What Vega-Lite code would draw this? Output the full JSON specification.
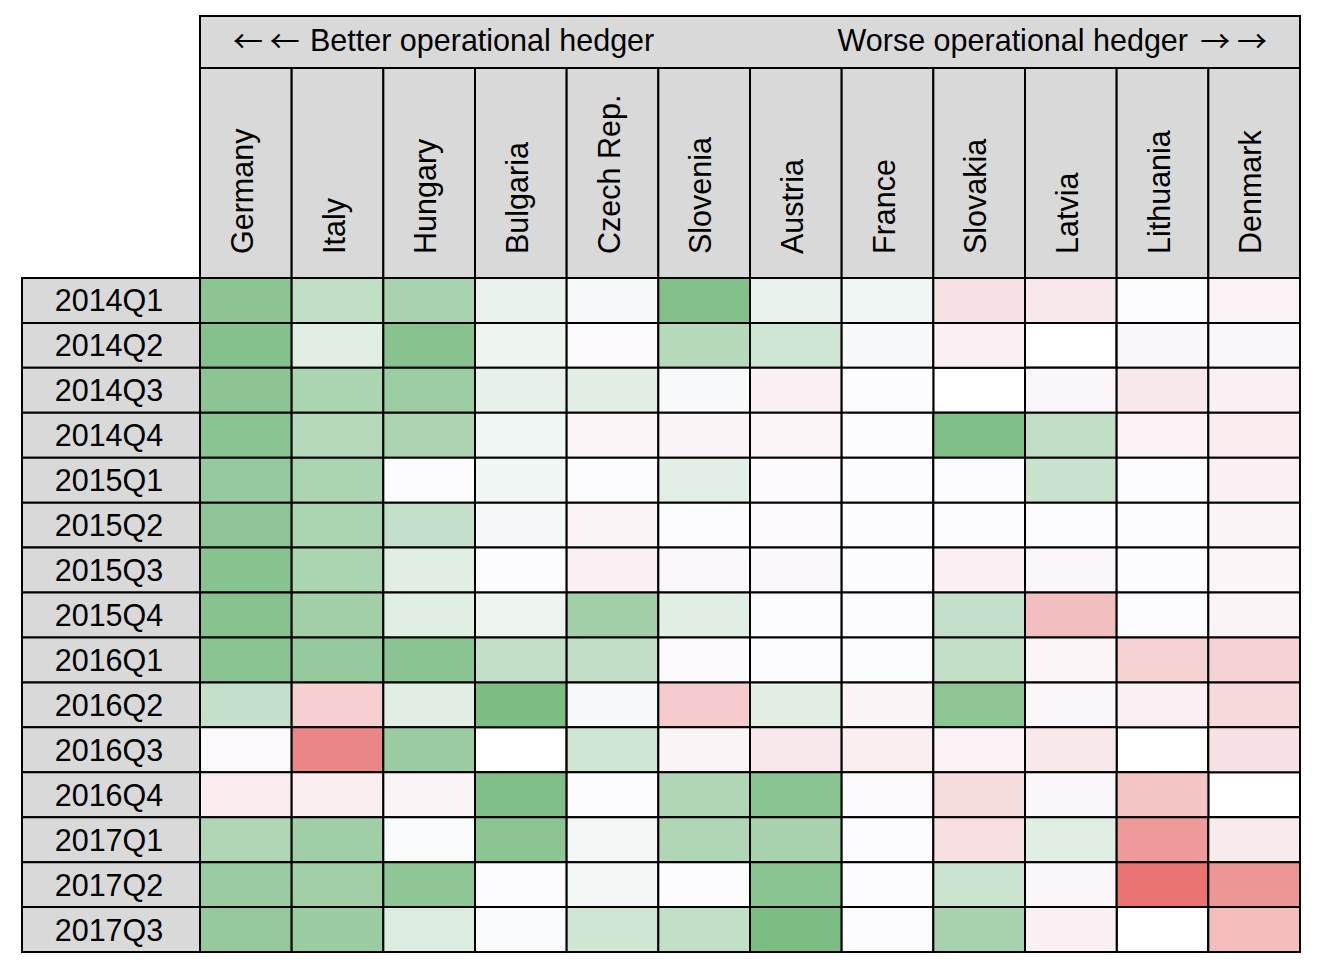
{
  "$schema": "https://vega.github.io/schema/vega-lite/v6.json",
  "padding": {"left": 21, "top": 15, "right": 0, "bottom": 0},
  "background": "white",
  "columns": 2,
  "spacing": 0,
  "align": "each",
  "bounds": "flush",
  "config": {
    "view": {"stroke": null},
    "text": {"font": "Liberation Sans", "fontSize": 30.5, "color": "black"}
  },
  "datasets": {
    "countries": [
      {"country": "Germany"}, {"country": "Italy"}, {"country": "Hungary"}, {"country": "Bulgaria"},
      {"country": "Czech Rep."}, {"country": "Slovenia"}, {"country": "Austria"}, {"country": "France"},
      {"country": "Slovakia"}, {"country": "Latvia"}, {"country": "Lithuania"}, {"country": "Denmark"}
    ],
    "quarters": [
      {"quarter": "2014Q1"}, {"quarter": "2014Q2"}, {"quarter": "2014Q3"}, {"quarter": "2014Q4"},
      {"quarter": "2015Q1"}, {"quarter": "2015Q2"}, {"quarter": "2015Q3"}, {"quarter": "2015Q4"},
      {"quarter": "2016Q1"}, {"quarter": "2016Q2"}, {"quarter": "2016Q3"}, {"quarter": "2016Q4"},
      {"quarter": "2017Q1"}, {"quarter": "2017Q2"}, {"quarter": "2017Q3"}
    ],
    "header": [
      {"label": "← ←", "anchor": "Germany", "part": "leftArrows"},
      {"label": "Better operational hedger", "anchor": "Germany", "part": "leftText"},
      {"label": "Worse operational hedger", "anchor": "Denmark", "part": "rightText"},
      {"label": "→ →", "anchor": "Denmark", "part": "rightArrows"}
    ],
    "cells": [
      {"quarter": "2014Q1", "country": "Germany", "value": -0.87},
      {"quarter": "2014Q1", "country": "Italy", "value": -0.47},
      {"quarter": "2014Q1", "country": "Hungary", "value": -0.64},
      {"quarter": "2014Q1", "country": "Bulgaria", "value": -0.15},
      {"quarter": "2014Q1", "country": "Czech Rep.", "value": -0.05},
      {"quarter": "2014Q1", "country": "Slovenia", "value": -0.94},
      {"quarter": "2014Q1", "country": "Austria", "value": -0.15},
      {"quarter": "2014Q1", "country": "France", "value": -0.09},
      {"quarter": "2014Q1", "country": "Slovakia", "value": 0.19},
      {"quarter": "2014Q1", "country": "Latvia", "value": 0.14},
      {"quarter": "2014Q1", "country": "Lithuania", "value": 0.0},
      {"quarter": "2014Q1", "country": "Denmark", "value": 0.07},

      {"quarter": "2014Q2", "country": "Germany", "value": -0.92},
      {"quarter": "2014Q2", "country": "Italy", "value": -0.22},
      {"quarter": "2014Q2", "country": "Hungary", "value": -0.90},
      {"quarter": "2014Q2", "country": "Bulgaria", "value": -0.11},
      {"quarter": "2014Q2", "country": "Czech Rep.", "value": 0.02},
      {"quarter": "2014Q2", "country": "Slovenia", "value": -0.54},
      {"quarter": "2014Q2", "country": "Austria", "value": -0.34},
      {"quarter": "2014Q2", "country": "France", "value": -0.05},
      {"quarter": "2014Q2", "country": "Slovakia", "value": 0.09},
      {"quarter": "2014Q2", "country": "Latvia", "value": null},
      {"quarter": "2014Q2", "country": "Lithuania", "value": 0.04},
      {"quarter": "2014Q2", "country": "Denmark", "value": 0.04},

      {"quarter": "2014Q3", "country": "Germany", "value": -0.87},
      {"quarter": "2014Q3", "country": "Italy", "value": -0.63},
      {"quarter": "2014Q3", "country": "Hungary", "value": -0.75},
      {"quarter": "2014Q3", "country": "Bulgaria", "value": -0.17},
      {"quarter": "2014Q3", "country": "Czech Rep.", "value": -0.22},
      {"quarter": "2014Q3", "country": "Slovenia", "value": -0.04},
      {"quarter": "2014Q3", "country": "Austria", "value": 0.09},
      {"quarter": "2014Q3", "country": "France", "value": 0.0},
      {"quarter": "2014Q3", "country": "Slovakia", "value": null},
      {"quarter": "2014Q3", "country": "Latvia", "value": 0.04},
      {"quarter": "2014Q3", "country": "Lithuania", "value": 0.14},
      {"quarter": "2014Q3", "country": "Denmark", "value": 0.09},

      {"quarter": "2014Q4", "country": "Germany", "value": -0.88},
      {"quarter": "2014Q4", "country": "Italy", "value": -0.54},
      {"quarter": "2014Q4", "country": "Hungary", "value": -0.62},
      {"quarter": "2014Q4", "country": "Bulgaria", "value": -0.10},
      {"quarter": "2014Q4", "country": "Czech Rep.", "value": 0.05},
      {"quarter": "2014Q4", "country": "Slovenia", "value": 0.06},
      {"quarter": "2014Q4", "country": "Austria", "value": 0.05},
      {"quarter": "2014Q4", "country": "France", "value": 0.0},
      {"quarter": "2014Q4", "country": "Slovakia", "value": -0.97},
      {"quarter": "2014Q4", "country": "Latvia", "value": -0.47},
      {"quarter": "2014Q4", "country": "Lithuania", "value": 0.07},
      {"quarter": "2014Q4", "country": "Denmark", "value": 0.12},

      {"quarter": "2015Q1", "country": "Germany", "value": -0.79},
      {"quarter": "2015Q1", "country": "Italy", "value": -0.63},
      {"quarter": "2015Q1", "country": "Hungary", "value": 0.0},
      {"quarter": "2015Q1", "country": "Bulgaria", "value": -0.09},
      {"quarter": "2015Q1", "country": "Czech Rep.", "value": 0.01},
      {"quarter": "2015Q1", "country": "Slovenia", "value": -0.20},
      {"quarter": "2015Q1", "country": "Austria", "value": 0.02},
      {"quarter": "2015Q1", "country": "France", "value": 0.0},
      {"quarter": "2015Q1", "country": "Slovakia", "value": 0.01},
      {"quarter": "2015Q1", "country": "Latvia", "value": -0.40},
      {"quarter": "2015Q1", "country": "Lithuania", "value": 0.0},
      {"quarter": "2015Q1", "country": "Denmark", "value": 0.09},

      {"quarter": "2015Q2", "country": "Germany", "value": -0.84},
      {"quarter": "2015Q2", "country": "Italy", "value": -0.63},
      {"quarter": "2015Q2", "country": "Hungary", "value": -0.43},
      {"quarter": "2015Q2", "country": "Bulgaria", "value": -0.06},
      {"quarter": "2015Q2", "country": "Czech Rep.", "value": 0.06},
      {"quarter": "2015Q2", "country": "Slovenia", "value": 0.0},
      {"quarter": "2015Q2", "country": "Austria", "value": 0.02},
      {"quarter": "2015Q2", "country": "France", "value": 0.0},
      {"quarter": "2015Q2", "country": "Slovakia", "value": 0.01},
      {"quarter": "2015Q2", "country": "Latvia", "value": 0.0},
      {"quarter": "2015Q2", "country": "Lithuania", "value": 0.0},
      {"quarter": "2015Q2", "country": "Denmark", "value": 0.06},

      {"quarter": "2015Q3", "country": "Germany", "value": -0.90},
      {"quarter": "2015Q3", "country": "Italy", "value": -0.63},
      {"quarter": "2015Q3", "country": "Hungary", "value": -0.22},
      {"quarter": "2015Q3", "country": "Bulgaria", "value": 0.0},
      {"quarter": "2015Q3", "country": "Czech Rep.", "value": 0.09},
      {"quarter": "2015Q3", "country": "Slovenia", "value": 0.03},
      {"quarter": "2015Q3", "country": "Austria", "value": 0.03},
      {"quarter": "2015Q3", "country": "France", "value": 0.0},
      {"quarter": "2015Q3", "country": "Slovakia", "value": 0.09},
      {"quarter": "2015Q3", "country": "Latvia", "value": 0.04},
      {"quarter": "2015Q3", "country": "Lithuania", "value": 0.0},
      {"quarter": "2015Q3", "country": "Denmark", "value": 0.05},

      {"quarter": "2015Q4", "country": "Germany", "value": -0.90},
      {"quarter": "2015Q4", "country": "Italy", "value": -0.70},
      {"quarter": "2015Q4", "country": "Hungary", "value": -0.22},
      {"quarter": "2015Q4", "country": "Bulgaria", "value": -0.11},
      {"quarter": "2015Q4", "country": "Czech Rep.", "value": -0.70},
      {"quarter": "2015Q4", "country": "Slovenia", "value": -0.22},
      {"quarter": "2015Q4", "country": "Austria", "value": 0.0},
      {"quarter": "2015Q4", "country": "France", "value": 0.0},
      {"quarter": "2015Q4", "country": "Slovakia", "value": -0.43},
      {"quarter": "2015Q4", "country": "Latvia", "value": 0.44},
      {"quarter": "2015Q4", "country": "Lithuania", "value": 0.0},
      {"quarter": "2015Q4", "country": "Denmark", "value": 0.06},

      {"quarter": "2016Q1", "country": "Germany", "value": -0.88},
      {"quarter": "2016Q1", "country": "Italy", "value": -0.79},
      {"quarter": "2016Q1", "country": "Hungary", "value": -0.88},
      {"quarter": "2016Q1", "country": "Bulgaria", "value": -0.45},
      {"quarter": "2016Q1", "country": "Czech Rep.", "value": -0.47},
      {"quarter": "2016Q1", "country": "Slovenia", "value": 0.02},
      {"quarter": "2016Q1", "country": "Austria", "value": 0.01},
      {"quarter": "2016Q1", "country": "France", "value": 0.0},
      {"quarter": "2016Q1", "country": "Slovakia", "value": -0.45},
      {"quarter": "2016Q1", "country": "Latvia", "value": 0.05},
      {"quarter": "2016Q1", "country": "Lithuania", "value": 0.31},
      {"quarter": "2016Q1", "country": "Denmark", "value": 0.30},

      {"quarter": "2016Q2", "country": "Germany", "value": -0.43},
      {"quarter": "2016Q2", "country": "Italy", "value": 0.32},
      {"quarter": "2016Q2", "country": "Hungary", "value": -0.22},
      {"quarter": "2016Q2", "country": "Bulgaria", "value": -0.99},
      {"quarter": "2016Q2", "country": "Czech Rep.", "value": -0.05},
      {"quarter": "2016Q2", "country": "Slovenia", "value": 0.35},
      {"quarter": "2016Q2", "country": "Austria", "value": -0.22},
      {"quarter": "2016Q2", "country": "France", "value": 0.06},
      {"quarter": "2016Q2", "country": "Slovakia", "value": -0.86},
      {"quarter": "2016Q2", "country": "Latvia", "value": 0.04},
      {"quarter": "2016Q2", "country": "Lithuania", "value": 0.09},
      {"quarter": "2016Q2", "country": "Denmark", "value": 0.25},

      {"quarter": "2016Q3", "country": "Germany", "value": 0.02},
      {"quarter": "2016Q3", "country": "Italy", "value": 0.84},
      {"quarter": "2016Q3", "country": "Hungary", "value": -0.76},
      {"quarter": "2016Q3", "country": "Bulgaria", "value": null},
      {"quarter": "2016Q3", "country": "Czech Rep.", "value": -0.35},
      {"quarter": "2016Q3", "country": "Slovenia", "value": 0.06},
      {"quarter": "2016Q3", "country": "Austria", "value": 0.14},
      {"quarter": "2016Q3", "country": "France", "value": 0.10},
      {"quarter": "2016Q3", "country": "Slovakia", "value": 0.07},
      {"quarter": "2016Q3", "country": "Latvia", "value": 0.14},
      {"quarter": "2016Q3", "country": "Lithuania", "value": null},
      {"quarter": "2016Q3", "country": "Denmark", "value": 0.19},

      {"quarter": "2016Q4", "country": "Germany", "value": 0.12},
      {"quarter": "2016Q4", "country": "Italy", "value": 0.10},
      {"quarter": "2016Q4", "country": "Hungary", "value": 0.06},
      {"quarter": "2016Q4", "country": "Bulgaria", "value": -0.97},
      {"quarter": "2016Q4", "country": "Czech Rep.", "value": 0.01},
      {"quarter": "2016Q4", "country": "Slovenia", "value": -0.59},
      {"quarter": "2016Q4", "country": "Austria", "value": -0.88},
      {"quarter": "2016Q4", "country": "France", "value": 0.02},
      {"quarter": "2016Q4", "country": "Slovakia", "value": 0.23},
      {"quarter": "2016Q4", "country": "Latvia", "value": 0.04},
      {"quarter": "2016Q4", "country": "Lithuania", "value": 0.40},
      {"quarter": "2016Q4", "country": "Denmark", "value": null},

      {"quarter": "2017Q1", "country": "Germany", "value": -0.59},
      {"quarter": "2017Q1", "country": "Italy", "value": -0.71},
      {"quarter": "2017Q1", "country": "Hungary", "value": -0.03},
      {"quarter": "2017Q1", "country": "Bulgaria", "value": -0.87},
      {"quarter": "2017Q1", "country": "Czech Rep.", "value": -0.08},
      {"quarter": "2017Q1", "country": "Slovenia", "value": -0.59},
      {"quarter": "2017Q1", "country": "Austria", "value": -0.66},
      {"quarter": "2017Q1", "country": "France", "value": 0.0},
      {"quarter": "2017Q1", "country": "Slovakia", "value": 0.20},
      {"quarter": "2017Q1", "country": "Latvia", "value": -0.22},
      {"quarter": "2017Q1", "country": "Lithuania", "value": 0.70},
      {"quarter": "2017Q1", "country": "Denmark", "value": 0.13},

      {"quarter": "2017Q2", "country": "Germany", "value": -0.76},
      {"quarter": "2017Q2", "country": "Italy", "value": -0.70},
      {"quarter": "2017Q2", "country": "Hungary", "value": -0.85},
      {"quarter": "2017Q2", "country": "Bulgaria", "value": 0.0},
      {"quarter": "2017Q2", "country": "Czech Rep.", "value": -0.07},
      {"quarter": "2017Q2", "country": "Slovenia", "value": 0.0},
      {"quarter": "2017Q2", "country": "Austria", "value": -0.88},
      {"quarter": "2017Q2", "country": "France", "value": 0.0},
      {"quarter": "2017Q2", "country": "Slovakia", "value": -0.38},
      {"quarter": "2017Q2", "country": "Latvia", "value": 0.04},
      {"quarter": "2017Q2", "country": "Lithuania", "value": 0.98},
      {"quarter": "2017Q2", "country": "Denmark", "value": 0.73},

      {"quarter": "2017Q3", "country": "Germany", "value": -0.80},
      {"quarter": "2017Q3", "country": "Italy", "value": -0.76},
      {"quarter": "2017Q3", "country": "Hungary", "value": -0.25},
      {"quarter": "2017Q3", "country": "Bulgaria", "value": -0.02},
      {"quarter": "2017Q3", "country": "Czech Rep.", "value": -0.35},
      {"quarter": "2017Q3", "country": "Slovenia", "value": -0.45},
      {"quarter": "2017Q3", "country": "Austria", "value": -0.99},
      {"quarter": "2017Q3", "country": "France", "value": 0.0},
      {"quarter": "2017Q3", "country": "Slovakia", "value": -0.66},
      {"quarter": "2017Q3", "country": "Latvia", "value": 0.09},
      {"quarter": "2017Q3", "country": "Lithuania", "value": null},
      {"quarter": "2017Q3", "country": "Denmark", "value": 0.45}
    ]
  },
  "concat": [
    {
      "width": 178, "height": 52,
      "data": {"values": []},
      "mark": "rect",
      "encoding": {}
    },
    {
      "width": 1100, "height": 52,
      "data": {"name": "header"},
      "view": {"fill": "#d9d9d9", "stroke": "black", "strokeWidth": 2},
      "encoding": {
        "x": {"field": "anchor", "type": "nominal",
              "scale": {"type": "band", "paddingInner": 0, "paddingOuter": 0,
                        "domain": ["Germany", "Italy", "Hungary", "Bulgaria", "Czech Rep.", "Slovenia", "Austria", "France", "Slovakia", "Latvia", "Lithuania", "Denmark"]},
              "axis": null},
        "text": {"field": "label"}
      },
      "layer": [
        {
          "transform": [{"filter": "datum.part === 'leftArrows'"}],
          "mark": {"type": "text", "align": "left", "baseline": "middle", "dx": 33, "dy": 1, "font": "Noto Sans CJK JP", "fontSize": 30},
          "encoding": {"x": {"field": "anchor", "type": "nominal", "bandPosition": 0}}
        },
        {
          "transform": [{"filter": "datum.part === 'leftText'"}],
          "mark": {"type": "text", "align": "left", "baseline": "middle", "dx": 110},
          "encoding": {"x": {"field": "anchor", "type": "nominal", "bandPosition": 0}}
        },
        {
          "transform": [{"filter": "datum.part === 'rightText'"}],
          "mark": {"type": "text", "align": "right", "baseline": "middle", "dx": -112},
          "encoding": {"x": {"field": "anchor", "type": "nominal", "bandPosition": 1}}
        },
        {
          "transform": [{"filter": "datum.part === 'rightArrows'"}],
          "mark": {"type": "text", "align": "right", "baseline": "middle", "dx": -33, "dy": 1, "font": "Noto Sans CJK JP", "fontSize": 30},
          "encoding": {"x": {"field": "anchor", "type": "nominal", "bandPosition": 1}}
        }
      ]
    },
    {
      "width": 178, "height": 210,
      "data": {"values": []},
      "mark": "rect",
      "encoding": {}
    },
    {
      "width": 1100, "height": 210,
      "data": {"name": "countries"},
      "encoding": {
        "x": {"field": "country", "type": "nominal",
              "scale": {"type": "band", "paddingInner": 0, "paddingOuter": 0,
                        "domain": ["Germany", "Italy", "Hungary", "Bulgaria", "Czech Rep.", "Slovenia", "Austria", "France", "Slovakia", "Latvia", "Lithuania", "Denmark"]},
              "axis": null}
      },
      "layer": [
        {"mark": {"type": "rect", "fill": "#d9d9d9", "stroke": "black", "strokeWidth": 2}},
        {"mark": {"type": "text", "angle": 270, "align": "left", "baseline": "middle", "dx": -81, "dy": -2},
         "encoding": {"text": {"field": "country"}}}
      ]
    },
    {
      "width": 178, "height": 674,
      "data": {"name": "quarters"},
      "encoding": {
        "y": {"field": "quarter", "type": "nominal",
              "scale": {"type": "band", "paddingInner": 0, "paddingOuter": 0},
              "sort": null, "axis": null}
      },
      "layer": [
        {"mark": {"type": "rect", "fill": "#d9d9d9", "stroke": "black", "strokeWidth": 2}},
        {"mark": {"type": "text", "align": "center", "baseline": "middle", "dx": -2, "dy": 2},
         "encoding": {"text": {"field": "quarter"}}}
      ]
    },
    {
      "width": 1100, "height": 674,
      "data": {"name": "cells"},
      "encoding": {
        "x": {"field": "country", "type": "nominal",
              "scale": {"type": "band", "paddingInner": 0, "paddingOuter": 0,
                        "domain": ["Germany", "Italy", "Hungary", "Bulgaria", "Czech Rep.", "Slovenia", "Austria", "France", "Slovakia", "Latvia", "Lithuania", "Denmark"]},
              "axis": null},
        "y": {"field": "quarter", "type": "nominal",
              "scale": {"type": "band", "paddingInner": 0, "paddingOuter": 0},
              "sort": null, "axis": null}
      },
      "layer": [
        {"mark": {"type": "rect", "fill": "white", "stroke": "black", "strokeWidth": 2}},
        {
          "transform": [{"filter": "datum.value != null"}],
          "mark": {"type": "rect", "stroke": "black", "strokeWidth": 2},
          "encoding": {
            "color": {"field": "value", "type": "quantitative",
                      "scale": {"domain": [-1, 0, 1], "range": ["#7bbc83", "#fcfcff", "#e8706f"], "interpolate": "rgb"},
                      "legend": null}
          }
        }
      ]
    }
  ]
}
